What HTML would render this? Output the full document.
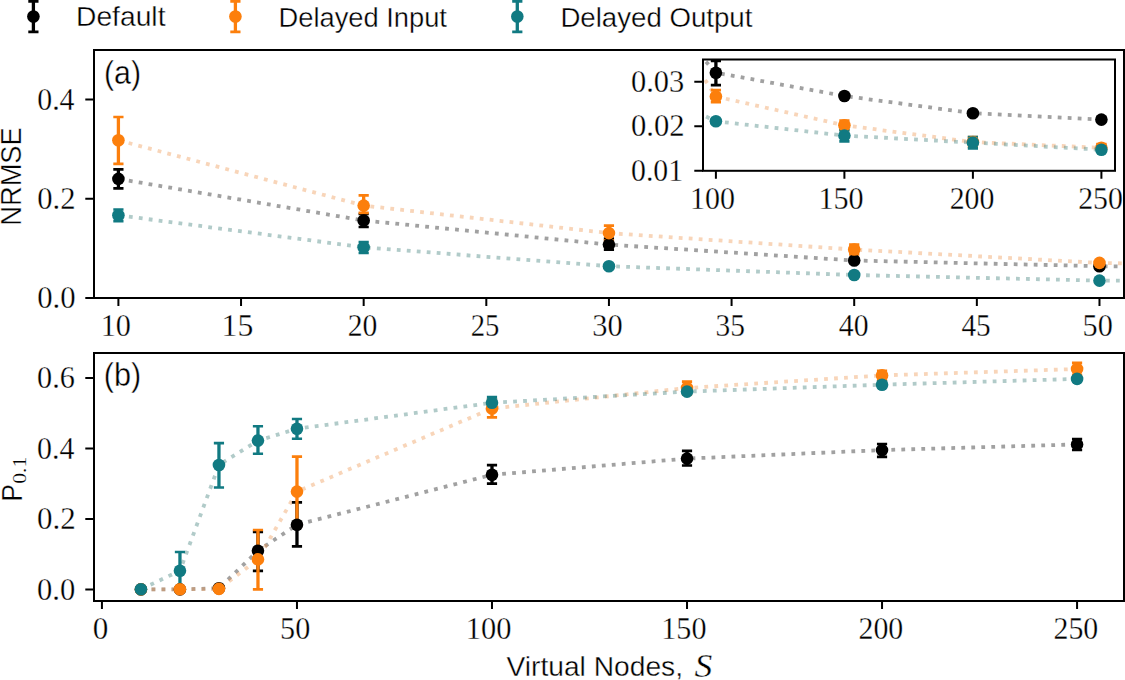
<!DOCTYPE html>
<html><head><meta charset="utf-8"><title>NRMSE and P0.1 vs Virtual Nodes</title>
<style>html,body{margin:0;padding:0;background:#fff;overflow:hidden}svg{display:block}</style>
</head><body>
<svg width="1125" height="680" viewBox="0 0 1125 680">
<rect x="0" y="0" width="1125" height="680" fill="#fff"/>
<clipPath id="ca"><rect x="94" y="50" width="1030" height="248"/></clipPath>
<g clip-path="url(#ca)">
<polyline points="118.40,178.90 363.67,220.50 608.94,244.60 854.21,260.50 1099.48,266.20 2325.83,282.10 3552.18,284.70 4778.53,286.62 6004.88,287.33" fill="none" stroke="#141414" stroke-opacity="0.4" stroke-width="3.8" stroke-dasharray="3.8 6.2" stroke-dashoffset="-0.6"/>
<polyline points="118.40,140.30 363.67,205.60 608.94,233.10 854.21,249.55 1099.48,262.90 2325.83,284.75 3552.18,287.97 4778.53,289.83 6004.88,290.47" fill="none" stroke="#ee9550" stroke-opacity="0.4" stroke-width="3.8" stroke-dasharray="3.8 6.2" stroke-dashoffset="-0.6"/>
<polyline points="118.40,215.30 363.67,247.30 608.94,266.20 854.21,275.00 1099.48,280.60 2325.83,287.52 3552.18,289.11 4778.53,289.89 6004.88,290.69" fill="none" stroke="#3c7d78" stroke-opacity="0.4" stroke-width="3.8" stroke-dasharray="3.8 6.2" stroke-dashoffset="-0.6"/>
<g stroke="#000000" fill="none">
<path d="M118.40 169.45V188.45" stroke-width="3.3"/>
<path d="M113.30 169.45H123.50M113.30 188.45H123.50" stroke-width="2.7"/>
<path d="M363.67 214.00V227.00" stroke-width="3.3"/>
<path d="M358.57 214.00H368.77M358.57 227.00H368.77" stroke-width="2.7"/>
<path d="M608.94 238.60V249.70" stroke-width="3.3"/>
<path d="M603.84 238.60H614.04M603.84 249.70H614.04" stroke-width="2.7"/>
<path d="M854.21 258.00V263.00" stroke-width="3.3"/>
<path d="M849.11 258.00H859.31M849.11 263.00H859.31" stroke-width="2.7"/>
<path d="M1099.48 264.00V268.00" stroke-width="3.3"/>
<path d="M1094.38 264.00H1104.58M1094.38 268.00H1104.58" stroke-width="2.7"/>
<path d="M2325.83 280.77V283.49" stroke-width="3.3"/>
<path d="M2320.73 280.77H2330.93M2320.73 283.49H2330.93" stroke-width="2.7"/>
<path d="M4778.53 286.37V286.87" stroke-width="3.3"/>
<path d="M4773.43 286.37H4783.63M4773.43 286.87H4783.63" stroke-width="2.7"/>
</g>
<g stroke="#fc7f0c" fill="none">
<path d="M118.40 117.00V163.80" stroke-width="3.3"/>
<path d="M113.30 117.00H123.50M113.30 163.80H123.50" stroke-width="2.7"/>
<path d="M363.67 195.30V212.80" stroke-width="3.3"/>
<path d="M358.57 195.30H368.77M358.57 212.80H368.77" stroke-width="2.7"/>
<path d="M608.94 225.60V240.60" stroke-width="3.3"/>
<path d="M603.84 225.60H614.04M603.84 240.60H614.04" stroke-width="2.7"/>
<path d="M854.21 244.70V254.40" stroke-width="3.3"/>
<path d="M849.11 244.70H859.31M849.11 254.40H859.31" stroke-width="2.7"/>
<path d="M1099.48 261.00V265.00" stroke-width="3.3"/>
<path d="M1094.38 261.00H1104.58M1094.38 265.00H1104.58" stroke-width="2.7"/>
<path d="M2325.83 284.05V285.38" stroke-width="3.3"/>
<path d="M2320.73 284.05H2330.93M2320.73 285.38H2330.93" stroke-width="2.7"/>
<path d="M3552.18 287.45V288.49" stroke-width="3.3"/>
<path d="M3547.08 287.45H3557.28M3547.08 288.49H3557.28" stroke-width="2.7"/>
<path d="M4778.53 289.27V290.39" stroke-width="3.3"/>
<path d="M4773.43 289.27H4783.63M4773.43 290.39H4783.63" stroke-width="2.7"/>
<path d="M6004.88 290.05V290.89" stroke-width="3.3"/>
<path d="M5999.78 290.05H6009.98M5999.78 290.89H6009.98" stroke-width="2.7"/>
</g>
<g stroke="#117a82" fill="none">
<path d="M118.40 209.50V221.10" stroke-width="3.3"/>
<path d="M113.30 209.50H123.50M113.30 221.10H123.50" stroke-width="2.7"/>
<path d="M363.67 242.00V253.00" stroke-width="3.3"/>
<path d="M358.57 242.00H368.77M358.57 253.00H368.77" stroke-width="2.7"/>
<path d="M608.94 264.00V268.00" stroke-width="3.3"/>
<path d="M603.84 264.00H614.04M603.84 268.00H614.04" stroke-width="2.7"/>
<path d="M854.21 273.00V277.00" stroke-width="3.3"/>
<path d="M849.11 273.00H859.31M849.11 277.00H859.31" stroke-width="2.7"/>
<path d="M1099.48 279.00V282.00" stroke-width="3.3"/>
<path d="M1094.38 279.00H1104.58M1094.38 282.00H1104.58" stroke-width="2.7"/>
<path d="M2325.83 287.26V287.76" stroke-width="3.3"/>
<path d="M2320.73 287.26H2330.93M2320.73 287.76H2330.93" stroke-width="2.7"/>
<path d="M3552.18 288.49V289.75" stroke-width="3.3"/>
<path d="M3547.08 288.49H3557.28M3547.08 289.75H3557.28" stroke-width="2.7"/>
<path d="M4778.53 289.27V290.53" stroke-width="3.3"/>
<path d="M4773.43 289.27H4783.63M4773.43 290.53H4783.63" stroke-width="2.7"/>
<path d="M6004.88 290.44V290.94" stroke-width="3.3"/>
<path d="M5999.78 290.44H6009.98M5999.78 290.94H6009.98" stroke-width="2.7"/>
</g>
<g fill="#000000">
<circle cx="118.40" cy="178.90" r="6.3"/>
<circle cx="363.67" cy="220.50" r="6.3"/>
<circle cx="608.94" cy="244.60" r="6.3"/>
<circle cx="854.21" cy="260.50" r="6.3"/>
<circle cx="1099.48" cy="266.20" r="6.3"/>
<circle cx="2325.83" cy="282.10" r="6.3"/>
<circle cx="3552.18" cy="284.70" r="6.3"/>
<circle cx="4778.53" cy="286.62" r="6.3"/>
<circle cx="6004.88" cy="287.33" r="6.3"/>
</g>
<g fill="#fc7f0c">
<circle cx="118.40" cy="140.30" r="6.3"/>
<circle cx="363.67" cy="205.60" r="6.3"/>
<circle cx="608.94" cy="233.10" r="6.3"/>
<circle cx="854.21" cy="249.55" r="6.3"/>
<circle cx="1099.48" cy="262.90" r="6.3"/>
<circle cx="2325.83" cy="284.75" r="6.3"/>
<circle cx="3552.18" cy="287.97" r="6.3"/>
<circle cx="4778.53" cy="289.83" r="6.3"/>
<circle cx="6004.88" cy="290.47" r="6.3"/>
</g>
<g fill="#117a82">
<circle cx="118.40" cy="215.30" r="6.3"/>
<circle cx="363.67" cy="247.30" r="6.3"/>
<circle cx="608.94" cy="266.20" r="6.3"/>
<circle cx="854.21" cy="275.00" r="6.3"/>
<circle cx="1099.48" cy="280.60" r="6.3"/>
<circle cx="2325.83" cy="287.52" r="6.3"/>
<circle cx="3552.18" cy="289.11" r="6.3"/>
<circle cx="4778.53" cy="289.89" r="6.3"/>
<circle cx="6004.88" cy="290.69" r="6.3"/>
</g>
</g>
<g stroke="#000" stroke-width="2.0" fill="none">
<rect x="94" y="50" width="1030" height="248"/>
<path d="M118.40 298v8M241.04 298v8M363.67 298v8M486.31 298v8M608.94 298v8M731.58 298v8M854.21 298v8M976.85 298v8M1099.48 298v8M85.3 298.00h8.7M85.3 198.80h8.7M85.3 99.60h8.7"/>
</g>
<text transform="translate(100.66,336.45) scale(0.9600,0.9835)" style='font-family:"Liberation Serif",serif;font-size:31.5px' fill="#000" stroke="#fff" stroke-width="0.3">10</text>
<text transform="translate(221.53,336.45) scale(1.0073,0.9952)" style='font-family:"Liberation Serif",serif;font-size:31.5px' fill="#000" stroke="#fff" stroke-width="0.3">15</text>
<text transform="translate(347.72,336.45) scale(0.9414,0.9835)" style='font-family:"Liberation Serif",serif;font-size:31.5px' fill="#000" stroke="#fff" stroke-width="0.3">20</text>
<text transform="translate(470.66,336.45) scale(0.9103,0.9835)" style='font-family:"Liberation Serif",serif;font-size:31.5px' fill="#000" stroke="#fff" stroke-width="0.3">25</text>
<text transform="translate(592.15,336.45) scale(0.9670,0.9835)" style='font-family:"Liberation Serif",serif;font-size:31.5px' fill="#000" stroke="#fff" stroke-width="0.3">30</text>
<text transform="translate(715.40,336.45) scale(0.9357,0.9835)" style='font-family:"Liberation Serif",serif;font-size:31.5px' fill="#000" stroke="#fff" stroke-width="0.3">35</text>
<text transform="translate(838.83,336.45) scale(0.9445,0.9835)" style='font-family:"Liberation Serif",serif;font-size:31.5px' fill="#000" stroke="#fff" stroke-width="0.3">40</text>
<text transform="translate(961.44,336.45) scale(0.9294,0.9952)" style='font-family:"Liberation Serif",serif;font-size:31.5px' fill="#000" stroke="#fff" stroke-width="0.3">45</text>
<text transform="translate(1082.62,336.45) scale(0.9614,0.9835)" style='font-family:"Liberation Serif",serif;font-size:31.5px' fill="#000" stroke="#fff" stroke-width="0.3">50</text>
<text transform="translate(37.18,308.41) scale(0.9757,0.9814)" style='font-family:"Liberation Serif",serif;font-size:31.5px' fill="#000" stroke="#fff" stroke-width="0.3">0.0</text>
<text transform="translate(37.18,208.71) scale(0.9726,0.9814)" style='font-family:"Liberation Serif",serif;font-size:31.5px' fill="#000" stroke="#fff" stroke-width="0.3">0.2</text>
<text transform="translate(37.21,109.96) scale(0.9483,0.9814)" style='font-family:"Liberation Serif",serif;font-size:31.5px' fill="#000" stroke="#fff" stroke-width="0.3">0.4</text>
<text transform="translate(103.97,83.50) scale(1.0469,1.1667)" style='font-family:"Liberation Sans",sans-serif;font-size:29px' fill="#000" stroke="#fff" stroke-width="0.35">(a)</text>
<rect x="703" y="59.5" width="412" height="111.30" fill="#fff"/>
<clipPath id="ci"><rect x="703" y="59.5" width="412" height="111.30000000000001"/></clipPath>
<g clip-path="url(#ci)">
<polyline points="484.60,-852.55 510.30,-479.57 536.00,-263.50 561.70,-120.94 587.40,-69.84 715.90,72.70 844.40,96.00 972.90,113.20 1101.40,119.60" fill="none" stroke="#141414" stroke-opacity="0.4" stroke-width="3.8" stroke-dasharray="3.8 6.2" stroke-dashoffset="-0.6"/>
<polyline points="484.60,-1198.62 510.30,-613.16 536.00,-366.61 561.70,-219.12 587.40,-99.43 715.90,96.50 844.40,125.30 972.90,142.00 1101.40,147.80" fill="none" stroke="#ee9550" stroke-opacity="0.4" stroke-width="3.8" stroke-dasharray="3.8 6.2" stroke-dashoffset="-0.6"/>
<polyline points="484.60,-526.20 510.30,-239.29 536.00,-69.84 561.70,9.06 587.40,59.27 715.90,121.30 844.40,135.60 972.90,142.60 1101.40,149.70" fill="none" stroke="#3c7d78" stroke-opacity="0.4" stroke-width="3.8" stroke-dasharray="3.8 6.2" stroke-dashoffset="-0.6"/>
<g stroke="#000000" fill="none">
<path d="M484.60 -937.27V-766.93" stroke-width="3.3"/>
<path d="M479.50 -937.27H489.70M479.50 -766.93H489.70" stroke-width="2.7"/>
<path d="M510.30 -537.85V-421.30" stroke-width="3.3"/>
<path d="M505.20 -537.85H515.40M505.20 -421.30H515.40" stroke-width="2.7"/>
<path d="M536.00 -317.29V-217.77" stroke-width="3.3"/>
<path d="M530.90 -317.29H541.10M530.90 -217.77H541.10" stroke-width="2.7"/>
<path d="M561.70 -143.36V-98.53" stroke-width="3.3"/>
<path d="M556.60 -143.36H566.80M556.60 -98.53H566.80" stroke-width="2.7"/>
<path d="M587.40 -89.56V-53.70" stroke-width="3.3"/>
<path d="M582.30 -89.56H592.50M582.30 -53.70H592.50" stroke-width="2.7"/>
<path d="M715.90 60.80V85.15" stroke-width="3.3"/>
<path d="M710.80 60.80H721.00M710.80 85.15H721.00" stroke-width="2.7"/>
<path d="M844.40 94.00V98.00" stroke-width="3.3"/>
<path d="M839.30 94.00H849.50M839.30 98.00H849.50" stroke-width="2.7"/>
<path d="M972.90 111.00V115.50" stroke-width="3.3"/>
<path d="M967.80 111.00H978.00M967.80 115.50H978.00" stroke-width="2.7"/>
<path d="M1101.40 117.50V121.50" stroke-width="3.3"/>
<path d="M1096.30 117.50H1106.50M1096.30 121.50H1106.50" stroke-width="2.7"/>
</g>
<g stroke="#fc7f0c" fill="none">
<path d="M484.60 -1407.53V-987.93" stroke-width="3.3"/>
<path d="M479.50 -1407.53H489.70M479.50 -987.93H489.70" stroke-width="2.7"/>
<path d="M510.30 -705.51V-548.61" stroke-width="3.3"/>
<path d="M505.20 -705.51H515.40M505.20 -548.61H515.40" stroke-width="2.7"/>
<path d="M536.00 -433.85V-299.36" stroke-width="3.3"/>
<path d="M530.90 -433.85H541.10M530.90 -299.36H541.10" stroke-width="2.7"/>
<path d="M561.70 -262.60V-175.64" stroke-width="3.3"/>
<path d="M556.60 -262.60H566.80M556.60 -175.64H566.80" stroke-width="2.7"/>
<path d="M587.40 -116.46V-80.60" stroke-width="3.3"/>
<path d="M582.30 -116.46H592.50M582.30 -80.60H592.50" stroke-width="2.7"/>
<path d="M715.90 90.20V102.10" stroke-width="3.3"/>
<path d="M710.80 90.20H721.00M710.80 102.10H721.00" stroke-width="2.7"/>
<path d="M844.40 120.70V130.00" stroke-width="3.3"/>
<path d="M839.30 120.70H849.50M839.30 130.00H849.50" stroke-width="2.7"/>
<path d="M972.90 137.00V147.00" stroke-width="3.3"/>
<path d="M967.80 137.00H978.00M967.80 147.00H978.00" stroke-width="2.7"/>
<path d="M1101.40 144.00V151.50" stroke-width="3.3"/>
<path d="M1096.30 144.00H1106.50M1096.30 151.50H1106.50" stroke-width="2.7"/>
</g>
<g stroke="#117a82" fill="none">
<path d="M484.60 -578.20V-474.19" stroke-width="3.3"/>
<path d="M479.50 -578.20H489.70M479.50 -474.19H489.70" stroke-width="2.7"/>
<path d="M510.30 -286.81V-188.19" stroke-width="3.3"/>
<path d="M505.20 -286.81H515.40M505.20 -188.19H515.40" stroke-width="2.7"/>
<path d="M536.00 -89.56V-53.70" stroke-width="3.3"/>
<path d="M530.90 -89.56H541.10M530.90 -53.70H541.10" stroke-width="2.7"/>
<path d="M561.70 -8.87V26.99" stroke-width="3.3"/>
<path d="M556.60 -8.87H566.80M556.60 26.99H566.80" stroke-width="2.7"/>
<path d="M587.40 44.92V71.82" stroke-width="3.3"/>
<path d="M582.30 44.92H592.50M582.30 71.82H592.50" stroke-width="2.7"/>
<path d="M715.90 119.00V123.50" stroke-width="3.3"/>
<path d="M710.80 119.00H721.00M710.80 123.50H721.00" stroke-width="2.7"/>
<path d="M844.40 130.00V141.30" stroke-width="3.3"/>
<path d="M839.30 130.00H849.50M839.30 141.30H849.50" stroke-width="2.7"/>
<path d="M972.90 137.00V148.30" stroke-width="3.3"/>
<path d="M967.80 137.00H978.00M967.80 148.30H978.00" stroke-width="2.7"/>
<path d="M1101.40 147.50V152.00" stroke-width="3.3"/>
<path d="M1096.30 147.50H1106.50M1096.30 152.00H1106.50" stroke-width="2.7"/>
</g>
<g fill="#000000">
<circle cx="484.60" cy="-852.55" r="6.3"/>
<circle cx="510.30" cy="-479.57" r="6.3"/>
<circle cx="536.00" cy="-263.50" r="6.3"/>
<circle cx="561.70" cy="-120.94" r="6.3"/>
<circle cx="587.40" cy="-69.84" r="6.3"/>
<circle cx="715.90" cy="72.70" r="6.3"/>
<circle cx="844.40" cy="96.00" r="6.3"/>
<circle cx="972.90" cy="113.20" r="6.3"/>
<circle cx="1101.40" cy="119.60" r="6.3"/>
</g>
<g fill="#fc7f0c">
<circle cx="484.60" cy="-1198.62" r="6.3"/>
<circle cx="510.30" cy="-613.16" r="6.3"/>
<circle cx="536.00" cy="-366.61" r="6.3"/>
<circle cx="561.70" cy="-219.12" r="6.3"/>
<circle cx="587.40" cy="-99.43" r="6.3"/>
<circle cx="715.90" cy="96.50" r="6.3"/>
<circle cx="844.40" cy="125.30" r="6.3"/>
<circle cx="972.90" cy="142.00" r="6.3"/>
<circle cx="1101.40" cy="147.80" r="6.3"/>
</g>
<g fill="#117a82">
<circle cx="484.60" cy="-526.20" r="6.3"/>
<circle cx="510.30" cy="-239.29" r="6.3"/>
<circle cx="536.00" cy="-69.84" r="6.3"/>
<circle cx="561.70" cy="9.06" r="6.3"/>
<circle cx="587.40" cy="59.27" r="6.3"/>
<circle cx="715.90" cy="121.30" r="6.3"/>
<circle cx="844.40" cy="135.60" r="6.3"/>
<circle cx="972.90" cy="142.60" r="6.3"/>
<circle cx="1101.40" cy="149.70" r="6.3"/>
</g>
</g>
<g stroke="#000" stroke-width="2.0" fill="none">
<rect x="703" y="59.5" width="412" height="111.30"/>
<path d="M715.90 170.8v8M844.40 170.8v8M972.90 170.8v8M1101.40 170.8v8M694.3 170.80h8.7M694.3 126.33h8.7M694.3 81.86h8.7"/>
</g>
<text transform="translate(690.08,208.85) scale(0.9526,0.9835)" style='font-family:"Liberation Serif",serif;font-size:31.5px' fill="#000" stroke="#fff" stroke-width="0.3">100</text>
<text transform="translate(818.47,208.85) scale(0.9572,0.9835)" style='font-family:"Liberation Serif",serif;font-size:31.5px' fill="#000" stroke="#fff" stroke-width="0.3">150</text>
<text transform="translate(949.72,208.85) scale(0.9453,0.9835)" style='font-family:"Liberation Serif",serif;font-size:31.5px' fill="#000" stroke="#fff" stroke-width="0.3">200</text>
<text transform="translate(1078.22,208.85) scale(0.9453,0.9835)" style='font-family:"Liberation Serif",serif;font-size:31.5px' fill="#000" stroke="#fff" stroke-width="0.3">250</text>
<text transform="translate(631.02,181.20) scale(0.9462,0.9953)" style='font-family:"Liberation Serif",serif;font-size:31.5px' fill="#000" stroke="#fff" stroke-width="0.3">0.01</text>
<text transform="translate(630.98,136.44) scale(0.9722,0.9860)" style='font-family:"Liberation Serif",serif;font-size:31.5px' fill="#000" stroke="#fff" stroke-width="0.3">0.02</text>
<text transform="translate(630.99,91.71) scale(0.9668,0.9860)" style='font-family:"Liberation Serif",serif;font-size:31.5px' fill="#000" stroke="#fff" stroke-width="0.3">0.03</text>
<clipPath id="cb"><rect x="94" y="353" width="1030" height="248"/></clipPath>
<g clip-path="url(#cb)">
<polyline points="140.94,589.40 179.95,589.40 218.95,588.30 257.96,550.80 296.97,524.70 491.99,474.80 687.02,458.60 882.04,450.10 1077.07,444.40" fill="none" stroke="#141414" stroke-opacity="0.4" stroke-width="3.8" stroke-dasharray="3.8 6.2" stroke-dashoffset="-0.6"/>
<polyline points="140.94,589.40 179.95,589.30 218.95,588.90 257.96,559.40 296.97,491.60 491.99,408.50 687.02,388.00 882.04,375.40 1077.07,369.00" fill="none" stroke="#ee9550" stroke-opacity="0.4" stroke-width="3.8" stroke-dasharray="3.8 6.2" stroke-dashoffset="-0.6"/>
<polyline points="140.94,589.30 179.95,570.70 218.95,465.00 257.96,440.60 296.97,428.75 491.99,402.80 687.02,391.60 882.04,384.70 1077.07,378.90" fill="none" stroke="#3c7d78" stroke-opacity="0.4" stroke-width="3.8" stroke-dasharray="3.8 6.2" stroke-dashoffset="-0.6"/>
<g stroke="#000000" fill="none">
<path d="M218.95 587.00V589.40" stroke-width="3.3"/>
<path d="M213.85 587.00H224.05M213.85 589.40H224.05" stroke-width="2.7"/>
<path d="M257.96 531.80V570.80" stroke-width="3.3"/>
<path d="M252.86 531.80H263.06M252.86 570.80H263.06" stroke-width="2.7"/>
<path d="M296.97 502.40V546.30" stroke-width="3.3"/>
<path d="M291.87 502.40H302.07M291.87 546.30H302.07" stroke-width="2.7"/>
<path d="M491.99 465.10V483.70" stroke-width="3.3"/>
<path d="M486.89 465.10H497.09M486.89 483.70H497.09" stroke-width="2.7"/>
<path d="M687.02 450.90V465.50" stroke-width="3.3"/>
<path d="M681.92 450.90H692.12M681.92 465.50H692.12" stroke-width="2.7"/>
<path d="M882.04 444.00V456.80" stroke-width="3.3"/>
<path d="M876.94 444.00H887.14M876.94 456.80H887.14" stroke-width="2.7"/>
<path d="M1077.07 439.00V450.00" stroke-width="3.3"/>
<path d="M1071.97 439.00H1082.16M1071.97 450.00H1082.16" stroke-width="2.7"/>
</g>
<g stroke="#fc7f0c" fill="none">
<path d="M257.96 530.00V589.40" stroke-width="3.3"/>
<path d="M252.86 530.00H263.06M252.86 589.40H263.06" stroke-width="2.7"/>
<path d="M296.97 456.70V526.50" stroke-width="3.3"/>
<path d="M291.87 456.70H302.07M291.87 526.50H302.07" stroke-width="2.7"/>
<path d="M491.99 399.60V417.40" stroke-width="3.3"/>
<path d="M486.89 399.60H497.09M486.89 417.40H497.09" stroke-width="2.7"/>
<path d="M687.02 381.60V394.40" stroke-width="3.3"/>
<path d="M681.92 381.60H692.12M681.92 394.40H692.12" stroke-width="2.7"/>
<path d="M882.04 370.80V380.00" stroke-width="3.3"/>
<path d="M876.94 370.80H887.14M876.94 380.00H887.14" stroke-width="2.7"/>
<path d="M1077.07 362.90V375.10" stroke-width="3.3"/>
<path d="M1071.97 362.90H1082.16M1071.97 375.10H1082.16" stroke-width="2.7"/>
</g>
<g stroke="#117a82" fill="none">
<path d="M179.95 552.00V589.40" stroke-width="3.3"/>
<path d="M174.85 552.00H185.05M174.85 589.40H185.05" stroke-width="2.7"/>
<path d="M218.95 443.10V487.50" stroke-width="3.3"/>
<path d="M213.85 443.10H224.05M213.85 487.50H224.05" stroke-width="2.7"/>
<path d="M257.96 426.25V453.75" stroke-width="3.3"/>
<path d="M252.86 426.25H263.06M252.86 453.75H263.06" stroke-width="2.7"/>
<path d="M296.97 419.00V438.75" stroke-width="3.3"/>
<path d="M291.87 419.00H302.07M291.87 438.75H302.07" stroke-width="2.7"/>
<path d="M491.99 397.10V408.50" stroke-width="3.3"/>
<path d="M486.89 397.10H497.09M486.89 408.50H497.09" stroke-width="2.7"/>
<path d="M687.02 389.00V394.00" stroke-width="3.3"/>
<path d="M681.92 389.00H692.12M681.92 394.00H692.12" stroke-width="2.7"/>
<path d="M882.04 382.00V387.50" stroke-width="3.3"/>
<path d="M876.94 382.00H887.14M876.94 387.50H887.14" stroke-width="2.7"/>
<path d="M1077.07 376.50V381.50" stroke-width="3.3"/>
<path d="M1071.97 376.50H1082.16M1071.97 381.50H1082.16" stroke-width="2.7"/>
</g>
<g fill="#000000">
<circle cx="140.94" cy="589.40" r="6.3"/>
<circle cx="179.95" cy="589.40" r="6.3"/>
<circle cx="218.95" cy="588.30" r="6.3"/>
<circle cx="257.96" cy="550.80" r="6.3"/>
<circle cx="296.97" cy="524.70" r="6.3"/>
<circle cx="491.99" cy="474.80" r="6.3"/>
<circle cx="687.02" cy="458.60" r="6.3"/>
<circle cx="882.04" cy="450.10" r="6.3"/>
<circle cx="1077.07" cy="444.40" r="6.3"/>
</g>
<g fill="#fc7f0c">
<circle cx="140.94" cy="589.40" r="6.3"/>
<circle cx="179.95" cy="589.30" r="6.3"/>
<circle cx="218.95" cy="588.90" r="6.3"/>
<circle cx="257.96" cy="559.40" r="6.3"/>
<circle cx="296.97" cy="491.60" r="6.3"/>
<circle cx="491.99" cy="408.50" r="6.3"/>
<circle cx="687.02" cy="388.00" r="6.3"/>
<circle cx="882.04" cy="375.40" r="6.3"/>
<circle cx="1077.07" cy="369.00" r="6.3"/>
</g>
<g fill="#117a82">
<circle cx="140.94" cy="589.30" r="6.3"/>
<circle cx="179.95" cy="570.70" r="6.3"/>
<circle cx="218.95" cy="465.00" r="6.3"/>
<circle cx="257.96" cy="440.60" r="6.3"/>
<circle cx="296.97" cy="428.75" r="6.3"/>
<circle cx="491.99" cy="402.80" r="6.3"/>
<circle cx="687.02" cy="391.60" r="6.3"/>
<circle cx="882.04" cy="384.70" r="6.3"/>
<circle cx="1077.07" cy="378.90" r="6.3"/>
</g>
</g>
<g stroke="#000" stroke-width="2.0" fill="none">
<rect x="94" y="353" width="1030" height="248"/>
<path d="M101.94 601v8M296.97 601v8M491.99 601v8M687.02 601v8M882.04 601v8M1077.07 601v8M85.3 589.40h8.7M85.3 518.96h8.7M85.3 448.52h8.7M85.3 378.08h8.7"/>
</g>
<text transform="translate(92.86,639.45) scale(0.9887,1.0118)" style='font-family:"Liberation Serif",serif;font-size:31.5px' fill="#000" stroke="#fff" stroke-width="0.3">0</text>
<text transform="translate(280.12,639.45) scale(0.9579,1.0118)" style='font-family:"Liberation Serif",serif;font-size:31.5px' fill="#000" stroke="#fff" stroke-width="0.3">50</text>
<text transform="translate(465.84,639.45) scale(0.9665,1.0118)" style='font-family:"Liberation Serif",serif;font-size:31.5px' fill="#000" stroke="#fff" stroke-width="0.3">100</text>
<text transform="translate(661.27,639.45) scale(0.9572,1.0118)" style='font-family:"Liberation Serif",serif;font-size:31.5px' fill="#000" stroke="#fff" stroke-width="0.3">150</text>
<text transform="translate(858.52,639.45) scale(0.9475,1.0118)" style='font-family:"Liberation Serif",serif;font-size:31.5px' fill="#000" stroke="#fff" stroke-width="0.3">200</text>
<text transform="translate(1053.52,639.45) scale(0.9475,1.0118)" style='font-family:"Liberation Serif",serif;font-size:31.5px' fill="#000" stroke="#fff" stroke-width="0.3">250</text>
<text transform="translate(37.09,599.71) scale(0.9703,0.9860)" style='font-family:"Liberation Serif",serif;font-size:31.5px' fill="#000" stroke="#fff" stroke-width="0.3">0.0</text>
<text transform="translate(37.07,529.27) scale(0.9836,0.9860)" style='font-family:"Liberation Serif",serif;font-size:31.5px' fill="#000" stroke="#fff" stroke-width="0.3">0.2</text>
<text transform="translate(37.11,458.83) scale(0.9510,0.9860)" style='font-family:"Liberation Serif",serif;font-size:31.5px' fill="#000" stroke="#fff" stroke-width="0.3">0.4</text>
<text transform="translate(37.10,387.90) scale(0.9611,0.9953)" style='font-family:"Liberation Serif",serif;font-size:31.5px' fill="#000" stroke="#fff" stroke-width="0.3">0.6</text>
<text transform="translate(103.85,386.03) scale(1.0562,1.1444)" style='font-family:"Liberation Sans",sans-serif;font-size:29px' fill="#000" stroke="#fff" stroke-width="0.35">(b)</text>
<text transform="translate(21.34,225.69) rotate(-90) scale(0.9729,1.0400)" style='font-family:"Liberation Sans",sans-serif;font-size:28px' fill="#000" stroke="#fff" stroke-width="0.35">NRMSE</text>
<text transform="translate(21.70,501.58) rotate(-90) scale(0.9267,1.0649)" style='font-family:"Liberation Sans",sans-serif;font-size:28px' fill="#000" stroke="#fff" stroke-width="0.35">P</text>
<text transform="translate(26.45,483.81) rotate(-90) scale(1.0826,0.9926)" style='font-family:"Liberation Serif",serif;font-size:20px' fill="#000" stroke="#fff" stroke-width="0.15">0.1</text>
<text transform="translate(506.45,675.63) scale(1.0070,1.0189)" style='font-family:"Liberation Sans",sans-serif;font-size:28px' fill="#000" stroke="#fff" stroke-width="0.35">Virtual Nodes,</text>
<text transform="translate(694.40,676.73) scale(1.1860,1.0963)" style='font-family:"Liberation Serif",serif;font-size:30px;font-style:italic' fill="#000" stroke="#fff" stroke-width="0.3">S</text>
<g stroke="#000000" fill="none">
<path d="M33.4 1.3V31.8" stroke-width="3.3"/>
<path d="M28.299999999999997 1.3H38.5M28.299999999999997 31.8H38.5" stroke-width="2.7"/>
</g>
<circle cx="33.4" cy="16.5" r="6.3" fill="#000000"/>
<g stroke="#fc7f0c" fill="none">
<path d="M235.4 1.3V31.8" stroke-width="3.3"/>
<path d="M230.3 1.3H240.5M230.3 31.8H240.5" stroke-width="2.7"/>
</g>
<circle cx="235.4" cy="16.5" r="6.3" fill="#fc7f0c"/>
<g stroke="#117a82" fill="none">
<path d="M517.3 1.3V31.8" stroke-width="3.3"/>
<path d="M512.1999999999999 1.3H522.4M512.1999999999999 31.8H522.4" stroke-width="2.7"/>
</g>
<circle cx="517.3" cy="16.5" r="6.3" fill="#117a82"/>
<text transform="translate(76.03,26.35) scale(1.0087,1.0000)" style='font-family:"Liberation Sans",sans-serif;font-size:28px' fill="#000" stroke="#fff" stroke-width="0.35">Default</text>
<text transform="translate(278.51,26.61) scale(0.9750,1.0077)" style='font-family:"Liberation Sans",sans-serif;font-size:28px' fill="#000" stroke="#fff" stroke-width="0.35">Delayed Input</text>
<text transform="translate(560.38,26.56) scale(0.9873,1.0154)" style='font-family:"Liberation Sans",sans-serif;font-size:28px' fill="#000" stroke="#fff" stroke-width="0.35">Delayed Output</text>
</svg>
</body></html>
